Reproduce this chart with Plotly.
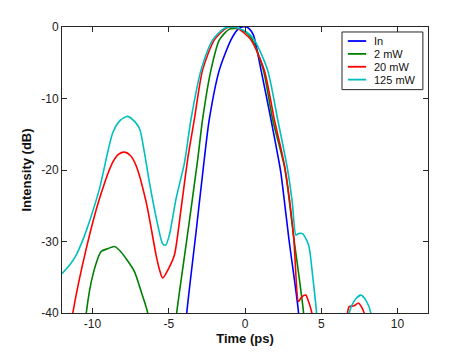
import plotly.graph_objects as go

# ---- data (Time in ps, Intensity in dB) ----
in_x = [-4.0, -3.82, -3.2, -2.67, -2.34, -1.68, -0.92, -0.5, -0.2, 0.1, 0.3, 0.55, 1.05, 1.7, 2.2, 2.36, 2.9, 3.51, 3.6]
in_y = [-45, -40, -28.5, -18.5, -12.9, -6, -1.8, -0.4, 0, 0, -0.3, -1.1, -6, -12.9, -18.5, -20.5, -30, -40, -45]

mw2_x = [-10.6, -10.41, -9.98, -9.43, -9.0, -8.56, -8.2, -7.8, -7.25, -6.81, -6.38, -6.2,
         -5.5, -4.7, -4.48, -3.8, -3.1, -2.78, -2.23, -1.68, -1.03, -0.6, -0.2, 0.4, 1.2, 1.81, 2.62, 3.2, 3.84, 3.95]
mw2_y = [-45, -40, -34.7, -31.4, -31.0, -30.7, -31.3, -32.4, -34.2, -37, -40, -45,
         -55, -45, -40, -29.5, -18.5, -12.9, -6, -1.8, -0.3, -0.2, -0.4, -1.5, -6, -12.9, -19.9, -29.5, -40, -45]

mw20_x = [-11.6, -11.29, -10.41, -9.54, -8.67, -8.3, -7.9, -7.5, -7.14, -6.48, -5.83, -5.6, -5.4, -5.0, -4.63, -4.19, -3.76,
          -3.32, -2.78, -2.01, -1.25, -0.9, -0.4, 0.39, 1.26, 1.92, 2.6, 3.18, 3.51, 3.7, 3.99, 4.1, 4.38, 4.5,
          5.5, 6.6, 6.72, 6.83, 7.16, 7.44, 7.6, 7.81, 7.95]
mw20_y = [-45, -40, -31, -24, -18.9, -17.8, -17.5, -18.0, -19.4, -24.5, -31.9, -34.0, -35.1, -33.75, -31.9, -25.4, -18.5,
          -12.9, -6, -1.8, -0.2, 0, -0.3, -1.8, -6, -12.9, -19.5, -29.1, -38.4, -37.8, -37.5, -38, -40, -45,
          -55, -45, -40, -39.1, -39, -38.6, -39, -40, -45]

mw125_x = [-12, -11.5, -11.07, -10.6, -10.2, -9.54, -8.67, -8.2, -7.7, -7.2, -6.9, -6.6, -6.27, -5.72, -5.4, -5.2, -4.96, -4.52, -3.97,
           -3.54, -2.88, -2.12, -1.36, -0.9, -0.4, 0.1, 0.61, 1.48, 2.14, 2.79, 3.1, 3.34, 3.5, 3.77, 4.17, 4.43, 4.69, 4.8,
           5.7, 6.7, 6.83, 7.2, 7.6, 7.95, 8.25, 8.4]
mw125_y = [-34.5, -33.3, -31.9, -29.6, -27.2, -22.6, -14.8, -13.1, -12.5, -13.3, -14.3, -17.5, -21.7, -27.7, -30.3, -30.5, -29.1, -24, -19,
           -12.9, -6, -1.8, -0.2, 0, -0.2, -0.7, -1.8, -6, -12.9, -19.9, -24.5, -29.1, -28.9, -28.9, -30.5, -34.7, -40, -45,
           -55, -45, -40, -38.2, -37.5, -38.3, -40, -45]

series_names = ["In", "2 mW", "20 mW", "125 mW"]
series_x = [in_x, mw2_x, mw20_x, mw125_x]
series_y = [in_y, mw2_y, mw20_y, mw125_y]
series_colors = ["#0000FF", "#008000", "#FF0000", "#00BFBF"]

x_ticks = [-10, -5, 0, 5, 10]
x_tick_labels = ["-10", "-5", "0", "5", "10"]
y_ticks = [0, -10, -20, -30, -40]
y_tick_labels = ["0", "-10", "-20", "-30", "-40"]

FONT = "Arial, Liberation Sans"

fig = go.Figure()
for name, xs, ys, col in zip(series_names, series_x, series_y, series_colors):
    fig.add_trace(go.Scatter(x=xs, y=ys, mode="lines", name=name, showlegend=False,
                             line=dict(color=col, width=1.6, shape="spline", smoothing=0.7)))

# compact MATLAB-style legend box (paper coordinates)
box_x0, box_x1, box_y0, box_y1 = 0.765, 0.986, 0.781, 0.9826
row_y0, row_step = 0.951, 0.045
fig.add_shape(type="rect", xref="paper", yref="paper", x0=box_x0, x1=box_x1, y0=box_y0, y1=box_y1,
              line=dict(color="#262626", width=1), fillcolor="white", layer="above")
for i, (name, col) in enumerate(zip(series_names, series_colors)):
    ry = row_y0 - i * row_step
    fig.add_shape(type="line", xref="paper", yref="paper", x0=0.781, x1=0.831, y0=ry, y1=ry,
                  line=dict(color=col, width=1.8), layer="above")
    fig.add_annotation(xref="paper", yref="paper", x=0.848, y=ry, text=name, showarrow=False,
                       xanchor="left", yanchor="middle",
                       font=dict(family=FONT, size=11, color="#111"))

axis_common = dict(showgrid=False, zeroline=False, showline=True, linecolor="#262626", linewidth=1,
                   ticks="inside", ticklen=5, tickcolor="#262626", mirror="ticks",
                   tickfont=dict(family=FONT, size=12, color="#222222"))

fig.update_layout(
    width=466, height=347,
    margin=dict(l=54, r=46, t=19, b=40),
    paper_bgcolor="white", plot_bgcolor="white",
    xaxis=dict(range=[-12, 12], tickvals=x_ticks, ticktext=x_tick_labels,
               title=dict(text="<b>Time (ps)</b>", font=dict(family=FONT, size=13, color="#111"), standoff=2),
               **axis_common),
    yaxis=dict(range=[-40, 0], tickvals=y_ticks, ticktext=y_tick_labels,
               title=dict(text="<b>Intensity (dB)</b>", font=dict(family=FONT, size=13, color="#111"), standoff=6),
               **axis_common),
    showlegend=False,
)

fig.write_html("out.html")
